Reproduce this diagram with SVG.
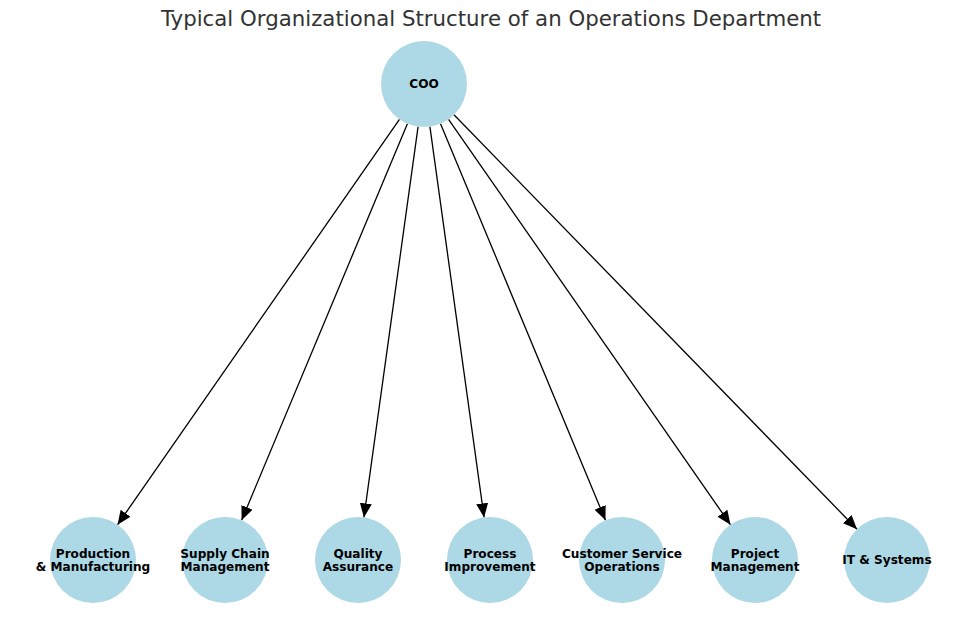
<svg xmlns="http://www.w3.org/2000/svg" width="980" height="620" viewBox="0 0 980 620">
<style>
.node circle{fill:#ADD8E6;}
.node text{font-family:"DejaVu Sans",sans-serif;font-weight:bold;font-size:12.1px;fill:#000;text-anchor:middle;}
.title{font-family:"DejaVu Sans",sans-serif;font-size:21.3px;fill:#333;text-anchor:middle;}
.edges line{stroke:#000;stroke-width:1.3;marker-end:url(#arr);}
</style>
<defs>
<marker id="arr" markerUnits="userSpaceOnUse" markerWidth="16" markerHeight="14" refX="14" refY="6" orient="auto" viewBox="0 0 16 12">
<path d="M0,0 L14,6 L0,12 Z" fill="#000"/>
</marker>
</defs>
<rect width="980" height="620" fill="#fff"/>
<text class="title" x="491" y="26">Typical Organizational Structure of an Operations Department</text>
<g class="edges" id="edges">
<line x1="399.45" y1="119.30" x2="117.55" y2="524.70"/>
<line x1="407.41" y1="123.67" x2="241.59" y2="520.33"/>
<line x1="418.09" y1="126.59" x2="363.91" y2="517.41"/>
<line x1="429.91" y1="126.59" x2="484.09" y2="517.41"/>
<line x1="440.52" y1="123.70" x2="605.48" y2="520.30"/>
<line x1="448.55" y1="119.30" x2="730.45" y2="524.70"/>
<line x1="453.98" y1="114.82" x2="857.02" y2="529.18"/>
</g>
<g class="node" id="coo"><circle cx="424" cy="84" r="43"/><text x="424" y="88">COO</text></g>
<g class="node" id="production"><circle cx="93" cy="560" r="43"/><text x="93" y="558">Production</text><text x="93" y="571">&amp; Manufacturing</text></g>
<g class="node" id="supply"><circle cx="225" cy="560" r="43"/><text x="225" y="558">Supply Chain</text><text x="225" y="571">Management</text></g>
<g class="node" id="quality"><circle cx="358" cy="560" r="43"/><text x="358" y="558">Quality</text><text x="358" y="571">Assurance</text></g>
<g class="node" id="process"><circle cx="490" cy="560" r="43"/><text x="490" y="558">Process</text><text x="490" y="571">Improvement</text></g>
<g class="node" id="customer"><circle cx="622" cy="560" r="43"/><text x="622" y="558">Customer Service</text><text x="622" y="571">Operations</text></g>
<g class="node" id="project"><circle cx="755" cy="560" r="43"/><text x="755" y="558">Project</text><text x="755" y="571">Management</text></g>
<g class="node" id="it"><circle cx="887" cy="560" r="43"/><text x="887" y="564">IT &amp; Systems</text></g>
</svg>
